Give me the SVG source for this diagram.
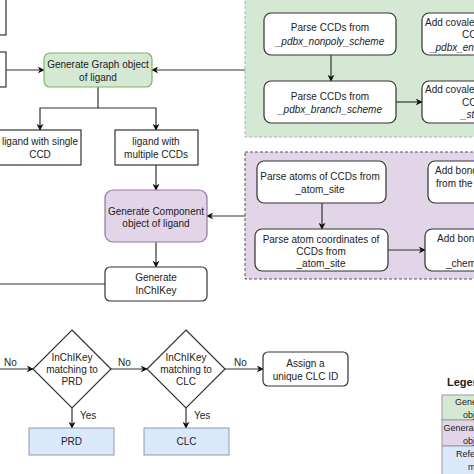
<svg xmlns="http://www.w3.org/2000/svg" width="474" height="474" viewBox="0 0 474 474">
<defs>
<style>
text{font-family:"Liberation Sans",Arial,sans-serif;font-size:10px;fill:#222}
.c{text-anchor:middle}
.i{font-style:italic}
.w{fill:#fff;stroke:#333;stroke-width:1.2}
.ln{fill:none;stroke:#333;stroke-width:1.2}
.lg{font-size:9px}
</style>
<marker id="a" viewBox="0 0 10 10" refX="9" refY="5" markerWidth="7" markerHeight="7" orient="auto" markerUnits="userSpaceOnUse">
<path d="M0,0 L10,5 L0,10 L3,5 Z" fill="#111"/>
</marker>
</defs>
<rect width="474" height="474" fill="#fff"/>

<g id="group-graph">
<rect x="245" y="-5" width="240" height="142" fill="#d5e8d4" stroke="#aab5a9" stroke-width="1" stroke-dasharray="3,2"/>
</g>
<g id="group-component">
<rect x="245" y="152" width="240" height="127" fill="#e1d5e7" stroke="#555" stroke-width="1" stroke-dasharray="3,2"/>
</g>

<g id="connectors">
<path class="ln" d="M6,70 H44" marker-end="url(#a)"/>
<path class="ln" d="M245,70 H152" marker-end="url(#a)"/>
<path class="ln" d="M98,87 V108 H40 V130" marker-end="url(#a)"/>
<path class="ln" d="M98,108 H156 V130" marker-end="url(#a)"/>
<path class="ln" d="M156,165 V190" marker-end="url(#a)"/>
<path class="ln" d="M245,216 H207" marker-end="url(#a)"/>
<path class="ln" d="M156,242 V267" marker-end="url(#a)"/>
<path class="ln" d="M105,284 H0"/>
<path class="ln" d="M0,369 H33" marker-end="url(#a)"/>
<path class="ln" d="M72,408 V428" marker-end="url(#a)"/>
<path class="ln" d="M111,369 H147" marker-end="url(#a)"/>
<path class="ln" d="M186,408 V428" marker-end="url(#a)"/>
<path class="ln" d="M225,369 H263" marker-end="url(#a)"/>
<path class="ln" d="M331,55 V81" marker-end="url(#a)"/>
<path class="ln" d="M396,102 H422" marker-end="url(#a)"/>
<path class="ln" d="M322,203 V229" marker-end="url(#a)"/>
<path class="ln" d="M388,250 H425" marker-end="url(#a)"/>
<text x="4" y="365.5">No</text>
<text x="118" y="365.5">No</text>
<text x="234" y="365.5">No</text>
<text x="80" y="419">Yes</text>
<text x="194" y="419">Yes</text>
</g>

<g id="node-topleft-1"><rect class="w" x="-20" y="-5" width="26" height="40"/></g>
<g id="node-topleft-2"><rect class="w" x="-20" y="52" width="26" height="35"/></g>

<g id="node-graph">
<rect x="44" y="53" width="108" height="34" rx="6" fill="#d5e8d4" stroke="#82b366" stroke-width="1.2"/>
<text class="c" x="98" y="67.5">Generate Graph object</text>
<text class="c" x="98" y="80.5">of ligand</text>
</g>

<g id="node-single">
<rect class="w" x="-10" y="130" width="91" height="35"/>
<text class="c" x="40" y="144.5">ligand with single</text>
<text class="c" x="40" y="157.5">CCD</text>
</g>
<g id="node-multiple">
<rect class="w" x="115" y="130" width="83" height="35"/>
<text class="c" x="156" y="144.5">ligand with</text>
<text class="c" x="156" y="157.5">multiple CCDs</text>
</g>

<g id="node-component">
<rect x="105" y="190" width="102" height="52" rx="8" fill="#e1d5e7" stroke="#9673a6" stroke-width="1.2"/>
<text class="c" x="156" y="214.5">Generate Component</text>
<text class="c" x="156" y="227">object of ligand</text>
</g>

<g id="node-inchikey">
<rect class="w" x="105" y="267" width="102" height="34" rx="5"/>
<text class="c" x="156" y="281">Generate</text>
<text class="c" x="156" y="293.5">InChIKey</text>
</g>

<g id="node-nonpoly">
<rect class="w" x="264" y="13" width="132" height="42" rx="7"/>
<text class="c" x="330" y="31">Parse CCDs from</text>
<text class="c i" x="330" y="44.5">_pdbx_nonpoly_scheme</text>
</g>
<g id="node-branch">
<rect class="w" x="264" y="81" width="132" height="42" rx="7"/>
<text class="c" x="330" y="99.5">Parse CCDs from</text>
<text class="c i" x="330" y="112.5">_pdbx_branch_scheme</text>
</g>
<g id="node-cov1">
<rect class="w" x="422" y="13" width="120" height="42" rx="7"/>
<text x="425" y="25.5">Add covalently linked</text>
<text x="462" y="38">CCDs from</text>
<text class="i" x="430" y="51">_pdbx_entity_branch_link</text>
</g>
<g id="node-cov2">
<rect class="w" x="422" y="81" width="120" height="42" rx="7"/>
<text x="425" y="92.5">Add covalently linked</text>
<text x="462" y="105.5">CCDs from</text>
<text class="i" x="461" y="118">_struct_conn</text>
</g>

<g id="node-atoms">
<rect class="w" x="257" y="161" width="129" height="42" rx="7"/>
<text class="c" x="320" y="179.5">Parse atoms of CCDs from</text>
<text class="c" x="320" y="192.5">_atom_site</text>
</g>
<g id="node-coords">
<rect class="w" x="255" y="229" width="133" height="42" rx="7"/>
<text class="c" x="321" y="242.5">Parse atom coordinates of</text>
<text class="c" x="321" y="254.5">CCDs from</text>
<text class="c" x="321" y="266.5">_atom_site</text>
</g>
<g id="node-bonds1">
<rect class="w" x="428" y="161" width="120" height="42" rx="7"/>
<text x="435" y="173.5">Add bonds of CCDs</text>
<text x="436" y="186.5">from the CCD library</text>
</g>
<g id="node-bonds2">
<rect class="w" x="425" y="229" width="120" height="42" rx="7"/>
<text x="437" y="241.5">Add bonds to CCDs</text>
<text x="478" y="254">from</text>
<text x="446" y="266.5">_chem_comp_bond</text>
</g>

<g id="node-d1">
<polygon points="72,330 111,369 72,408 33,369" fill="#fff" stroke="#333" stroke-width="1.2"/>
<text class="c" x="72" y="360.5">InChIKey</text>
<text class="c" x="72" y="372.5">matching to</text>
<text class="c" x="72" y="384.5">PRD</text>
</g>
<g id="node-d2">
<polygon points="186,330 225,369 186,408 147,369" fill="#fff" stroke="#333" stroke-width="1.2"/>
<text class="c" x="186" y="360.5">InChIKey</text>
<text class="c" x="186" y="372.5">matching to</text>
<text class="c" x="186" y="384.5">CLC</text>
</g>
<g id="node-prd">
<rect x="29" y="428" width="85" height="27" fill="#dae8fc" stroke="#8a9bb0" stroke-width="1"/>
<text class="c" x="71.5" y="444.5">PRD</text>
</g>
<g id="node-clc">
<rect x="144" y="428" width="85" height="27" fill="#dae8fc" stroke="#8a9bb0" stroke-width="1"/>
<text class="c" x="186.5" y="444.5">CLC</text>
</g>
<g id="node-assign">
<rect class="w" x="263" y="352" width="85" height="34" rx="5"/>
<text class="c" x="305.5" y="366.5">Assign a</text>
<text class="c" x="305.5" y="379.5">unique CLC ID</text>
</g>

<g id="legend">
<text x="447" y="386" style="font-weight:bold;font-size:11px">Legend</text>
<rect x="442" y="395" width="60" height="25" fill="#d5e8d4" stroke="#999" stroke-width="1"/>
<rect x="442" y="420" width="60" height="26" fill="#e1d5e7" stroke="#999" stroke-width="1"/>
<rect x="442" y="446" width="60" height="32" fill="#dae8fc" stroke="#999" stroke-width="1"/>
<text class="lg" x="455" y="405">Generate Graph</text>
<text class="lg" x="463" y="418">object</text>
<text class="lg" x="443.5" y="431">Generate Component</text>
<text class="lg" x="463" y="444">object</text>
<text class="lg" x="456" y="457">Reference</text>
<text class="lg" x="468" y="470">matching</text>
</g>
</svg>
